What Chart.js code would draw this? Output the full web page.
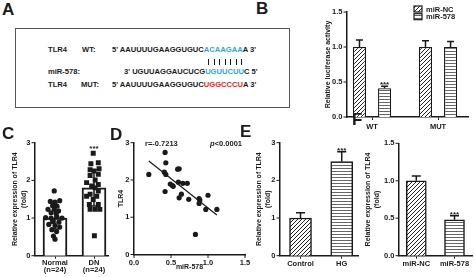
<!DOCTYPE html>
<html>
<head>
<meta charset="utf-8">
<script src="https://cdn.jsdelivr.net/npm/chart.js@4.4.1/dist/chart.umd.min.js"></script>
<style>
  body { margin: 0; width: 474px; height: 277px; background: #fff; position: relative; overflow: hidden;
         font-family: "Liberation Sans", Arial, sans-serif; font-weight: bold; color: #1a1a1a; }
  canvas { position: absolute; }
  .lbl { position: absolute; font-size: 17px; line-height: 17px; }
  .box { position: absolute; left: 15px; top: 28px; width: 273px; height: 78px; border: 1px solid #555; }
  .t { position: absolute; font-size: 7.6px; line-height: 10px; white-space: nowrap; }
  .tk { position: absolute; font-size: 7.5px; line-height: 10px; white-space: nowrap; }
  .b { color: #2aa6df; }
  .r { color: #e42525; }
  .p { position: relative; display: inline-block; }
  .p::before { content: ''; position: absolute; left: 50%; top: -8px; width: 1px; height: 6px; background: #1a1a1a; }
</style>
</head>
<body>
<canvas id="cB"></canvas>
<canvas id="cC"></canvas>
<canvas id="cD"></canvas>
<canvas id="cE"></canvas>
<canvas id="cF"></canvas>

<div class="box"></div>
<div class="t" style="left:48px;top:45px">TLR4</div>
<div class="t" style="left:82px;top:45px">WT:</div>
<div class="t" style="left:112px;top:45px">5' AAUUUUGAAGGUGUC<span class="b">ACAAGAA</span>A 3'</div>
<div class="t" style="left:48px;top:67px">miR-578:</div>
<div class="t" style="left:124px;top:67px">3' UGUUAGGAUCUCG<span class="b"><span class="p">U</span><span class="p">G</span><span class="p">U</span><span class="p">U</span><span class="p">C</span><span class="p">U</span><span class="p">U</span></span>C 5'</div>
<div class="t" style="left:48px;top:80px">TLR4</div>
<div class="t" style="left:81px;top:80px">MUT:</div>
<div class="t" style="left:112px;top:80px">5' AAUUUUGAAGGUGUC<span class="r">UGGCCCU</span>A 3'</div>

<div class="lbl" style="left:2px;top:1px">A</div>
<div class="lbl" style="left:256px;top:0px">B</div>
<div class="lbl" style="left:2px;top:125px">C</div>
<div class="lbl" style="left:110px;top:126px">D</div>
<div class="lbl" style="left:240px;top:123px">E</div>
<div class="lbl" style="left:352px;top:111px">F</div>

<script>
// B: luciferase
const lucCats = ['WT', 'MUT'];
const lucTicks = [0, 0.5, 1.0, 1.5];
const lucNC = [1.0, 1.0];
const lucNCErr = [0.10, 0.09];
const luc578 = [0.41, 1.0];
const luc578Err = [0.03, 0.08];
const luc578Stars = ['***', ''];

// C: tissue
const tissueCats = [['Normal', '(n=24)'], ['DN', '(n=24)']];
const tlrTicks = [0, 1, 2, 3];
const tissueMean = [1.0, 1.8];
const tissueSD = [0.29, 0.48];
const tissueStars = ['', '***'];
const normalVals = [1.72, 1.44, 1.42, 1.46, 1.33, 1.32, 1.23, 1.23, 1.19, 1.14, 1.12, 1.01,
                    1.00, 1.03, 1.00, 0.91, 0.89, 0.83, 0.80, 0.76, 0.69, 0.64, 0.52, 0.44];
const normalJit = [-0.02, -0.12, 0.0, 0.12, -0.06, 0.05, -0.18, -0.02, 0.09, -0.1, 0.03, -0.24,
                   -0.1, 0.05, 0.18, -0.06, 0.1, -0.16, 0.0, 0.12, -0.08, 0.04, -0.04, 0.0];
const dnVals = [2.72, 2.47, 2.44, 2.31, 2.28, 2.25, 2.16, 2.13, 2.01, 1.94, 1.89, 1.85,
                1.80, 1.72, 1.63, 1.58, 1.49, 1.36, 1.36, 1.23, 1.23, 1.23, 0.53, 1.58];
const dnJit = [-0.02, 0.11, -0.08, 0.13, -0.10, 0.0, 0.11, -0.10, 0.03, -0.19, 0.11, -0.06,
               0.03, 0.11, -0.10, 0.07, -0.02, 0.11, -0.12, 0.03, -0.10, 0.15, 0.01, -0.19];

// D: correlation
const miRTicks = [0, 0.5, 1.0, 1.5];
const corrMiR = [0.42, 0.43, 0.20, 0.41, 0.43, 0.59, 0.61, 0.42, 0.49, 0.52, 0.53, 0.60,
                 0.66, 0.72, 0.64, 0.61, 0.74, 0.88, 0.89, 0.88, 1.00, 0.97, 1.12, 0.83];
const corrTLR4 = [2.74, 2.46, 2.15, 2.21, 2.15, 2.29, 2.30, 1.69, 1.89, 1.85, 1.83, 1.94,
                  1.91, 1.91, 1.62, 1.52, 1.48, 1.50, 1.46, 1.37, 1.59, 1.21, 1.21, 0.54];
const fitMiR = [0.20, 1.12];
const fitTLR4 = [2.51, 1.06];
const corrR = 'r=-0.7213';
const corrP = '<0.0001';

// E: high glucose
const hgCats = ['Control', 'HG'];
const hgMean = [1.0, 2.5];
const hgErr = [0.14, 0.26];
const hgStars = ['', '***'];

// F: mimic
const mimicCats = ['miR-NC', 'miR-578'];
const foldTicks = [0, 0.5, 1.0, 1.5];
const mimicMean = [1.0, 0.48];
const mimicErr = [0.064, 0.053];
const mimicStars = ['', '***'];

const ink = '#1a1a1a';
const fontFam = '"Liberation Sans", Arial, sans-serif';
Chart.defaults.font.family = fontFam;
Chart.defaults.font.size = 7.5;
Chart.defaults.font.weight = 'bold';
Chart.defaults.color = ink;

function hatch(kind) {
  const c = document.createElement('canvas');
  const s = kind === 'diag' ? 4 : 3;
  c.width = s; c.height = s;
  const g = c.getContext('2d');
  g.fillStyle = '#fff';
  g.fillRect(0, 0, s, s);
  g.strokeStyle = kind === 'diag' ? '#222' : '#666';
  g.lineWidth = 1;
  g.beginPath();
  if (kind === 'diag') {
    g.moveTo(0, s); g.lineTo(s, 0);
    g.moveTo(-1, 1); g.lineTo(1, -1);
    g.moveTo(s - 1, s + 1); g.lineTo(s + 1, s - 1);
  } else {
    g.moveTo(0, 0.5); g.lineTo(s, 0.5);
  }
  g.stroke();
  return g.createPattern(c, 'repeat');
}
const diag = hatch('diag');
const horiz = hatch('horiz');

function place(id, x, y, w, h) {
  const c = document.getElementById(id);
  c.width = w; c.height = h;
  c.style.left = x + 'px'; c.style.top = y + 'px';
  c.style.width = w + 'px'; c.style.height = h + 'px';
  return c;
}

const fmt1 = v => Number(v).toFixed(1);
const fmt0 = v => String(v);

// tick marks and axis titles on the canvas
function axisText(cfg) {
  return {
    id: 'axisText',
    afterDraw(chart) {
      const ctx = chart.ctx, a = chart.chartArea, ys = chart.scales.y, xs = chart.scales.x;
      ctx.save();
      ctx.strokeStyle = ink;
      ctx.lineWidth = 1;
      cfg.yTicks.forEach(v => {
        const py = ys.getPixelForValue(v);
        ctx.beginPath(); ctx.moveTo(a.left - 3.5, py); ctx.lineTo(a.left, py); ctx.stroke();
      });
      if (cfg.xTicks) {
        cfg.xTicks.forEach(v => {
          const px = xs.getPixelForValue(v);
          ctx.beginPath(); ctx.moveTo(px, a.bottom); ctx.lineTo(px, a.bottom + 3.5); ctx.stroke();
        });
      }
      ctx.fillStyle = ink;
      ctx.font = 'bold 7px ' + fontFam;
      ctx.textAlign = 'center';
      ctx.textBaseline = 'middle';
      cfg.yTitle.forEach((line, i) => {
        ctx.save();
        ctx.translate(cfg.yTitleX + i * 9.1, (a.top + a.bottom) / 2);
        ctx.rotate(-Math.PI / 2);
        ctx.fillText(line, 0, 0);
        ctx.restore();
      });
      if (cfg.xTitle) ctx.fillText(cfg.xTitle, (a.left + a.right) / 2, cfg.xTitleY);
      ctx.restore();
    }
  };
}

// numeric tick labels as page text, positioned from the chart's scales
function addTick(txt, x, y, align) {
  const d = document.createElement('div');
  d.className = 'tk';
  d.textContent = txt;
  if (align === 'right') {
    d.style.right = (474 - x) + 'px';
    d.style.top = (y - 5) + 'px';
  } else {
    d.style.left = (x - 15) + 'px';
    d.style.width = '30px';
    d.style.textAlign = 'center';
    d.style.top = y + 'px';
  }
  document.body.appendChild(d);
}
function tickLabels(chart, ox, oy, yTicks, yFmt, xTicks, xFmt) {
  const a = chart.chartArea, ys = chart.scales.y, xs = chart.scales.x;
  yTicks.forEach(v => addTick(yFmt(v), ox + a.left - 4.5, oy + ys.getPixelForValue(v), 'right'));
  if (xTicks) xTicks.forEach(v => addTick(xFmt(v), ox + xs.getPixelForValue(v), oy + a.bottom + 3, 'center'));
}

function yAxis(max, width) {
  return {
    min: 0, max: max,
    ticks: { display: false },
    grid: { display: false },
    border: { color: ink, width: 1.5 },
    afterFit(s) { s.width = width; }
  };
}

function catAxis(cats, min, max, height, pad) {
  return {
    type: 'linear', min: min, max: max, offset: false,
    afterBuildTicks(s) { s.ticks = cats.map((c, i) => ({ value: i + 1 })); },
    ticks: { padding: pad, maxRotation: 0, autoSkip: false, font: { size: 7.5, lineHeight: 1 },
             callback: v => cats[Math.round(v) - 1] },
    grid: { drawOnChartArea: false, offset: false, tickLength: 3, color: ink, lineWidth: 1 },
    border: { color: ink, width: 1.5 },
    afterFit(s) { s.height = height; }
  };
}

const errorBars = {
  id: 'errorBars',
  afterDatasetsDraw(chart) {
    const ctx = chart.ctx;
    const ys = chart.scales.y;
    chart.data.datasets.forEach((ds, di) => {
      if (!ds.err) return;
      const meta = chart.getDatasetMeta(di);
      meta.data.forEach((bar, i) => {
        const v = ds.data[i].y, e = ds.err[i];
        const top = ys.getPixelForValue(v + e);
        const bot = ds.both ? ys.getPixelForValue(v - e) : bar.y;
        const half = ds.cap / 2;
        ctx.save();
        ctx.strokeStyle = ink;
        ctx.lineWidth = 1.5;
        ctx.beginPath();
        ctx.moveTo(bar.x, bot); ctx.lineTo(bar.x, top);
        ctx.moveTo(bar.x - half, top); ctx.lineTo(bar.x + half, top);
        if (ds.both) { ctx.moveTo(bar.x - half, bot); ctx.lineTo(bar.x + half, bot); }
        ctx.stroke();
        if (ds.stars && ds.stars[i]) {
          let yy = top;
          if (ds.starOver) yy = Math.min(yy, ys.getPixelForValue(ds.starOver[i]) - 3);
          ctx.fillStyle = ink;
          ctx.font = 'bold 8px ' + fontFam;
          ctx.textAlign = 'center';
          ctx.textBaseline = 'alphabetic';
          ctx.fillText(ds.stars[i], bar.x, yy + 1);
        }
        ctx.restore();
      });
    });
  }
};

const sideLegend = {
  id: 'sideLegend',
  afterDraw(chart, args, opts) {
    if (opts.x === undefined) return;
    const ctx = chart.ctx;
    chart.data.datasets.forEach((ds, i) => {
      const y = opts.y + i * opts.gap;
      ctx.save();
      ctx.fillStyle = ds.backgroundColor;
      ctx.fillRect(opts.x, y - 3, 8, 6);
      ctx.strokeStyle = ink; ctx.lineWidth = 1.2;
      ctx.strokeRect(opts.x, y - 3, 8, 6);
      ctx.fillStyle = ink;
      ctx.font = 'bold 7.5px ' + fontFam;
      ctx.textBaseline = 'middle';
      ctx.fillText(ds.label, opts.x + 12, y + 0.5);
      ctx.restore();
    });
  }
};

const corrText = {
  id: 'corrText',
  afterDraw(chart, args, opts) {
    if (!opts.r) return;
    const ctx = chart.ctx, a = chart.chartArea;
    ctx.save();
    ctx.fillStyle = ink;
    ctx.textBaseline = 'middle';
    ctx.font = 'bold 7.5px ' + fontFam;
    ctx.fillText(opts.r, a.left + 11, a.top + 1);
    const w = ctx.measureText(opts.p).width;
    ctx.fillText(opts.p, a.right - 3 - w, a.top + 1);
    ctx.font = 'italic bold 7.5px ' + fontFam;
    ctx.textAlign = 'right';
    ctx.fillText('p', a.right - 3 - w, a.top + 1);
    ctx.restore();
  }
};

function baseOpts(pad, scales, extra) {
  return {
    responsive: false, animation: false, events: [],
    layout: { padding: { left: 0, bottom: 0, top: pad.top, right: pad.right } },
    scales: scales,
    plugins: Object.assign({ legend: { display: false }, tooltip: { enabled: false } }, extra)
  };
}

const toXY = vals => vals.map((v, i) => ({ x: i + 1, y: v }));
const relTitle = ['Relative expression of TLR4', '(fold)'];

// B
const chartB = new Chart(place('cB', 318, 0, 156, 135), {
  type: 'bar',
  data: { datasets: [
    { label: 'miR-NC', data: toXY(lucNC), err: lucNCErr, cap: 7,
      backgroundColor: diag, borderColor: ink, borderWidth: 1.3,
      categoryPercentage: 0.76, barPercentage: 0.52 },
    { label: 'miR-578', data: toXY(luc578), err: luc578Err, stars: luc578Stars, cap: 7,
      backgroundColor: horiz, borderColor: ink, borderWidth: 1.3,
      categoryPercentage: 0.76, barPercentage: 0.52 }
  ] },
  options: baseOpts({ top: 12, right: 6 }, {
    x: catAxis(lucCats, 0.621, 2.454, 18, 3),
    y: yAxis(1.5, 29)
  }, { sideLegend: { x: 96, y: 9, gap: 7.7 } }),
  plugins: [errorBars, sideLegend,
            axisText({ yTicks: lucTicks, yTitle: ['Relative luciferase activity'], yTitleX: 10 })]
});
tickLabels(chartB, 318, 0, lucTicks, fmt1);

// C
const chartC = new Chart(place('cC', 0, 135, 112, 142), {
  type: 'bar',
  data: { datasets: [
    { type: 'scatter', data: normalVals.map((v, i) => ({ x: 1 + normalJit[i], y: v })),
      pointStyle: 'circle', pointRadius: 2.6, backgroundColor: ink, borderWidth: 0 },
    { type: 'scatter', data: dnVals.map((v, i) => ({ x: 2 + dnJit[i], y: v })),
      pointStyle: 'rect', pointRadius: 3.5, backgroundColor: ink, borderWidth: 0 },
    { data: toXY(tissueMean), err: tissueSD, both: true, cap: 9,
      stars: tissueStars, starOver: [Math.max(...normalVals), Math.max(...dnVals)],
      backgroundColor: '#fff', borderColor: ink, borderWidth: 2, barThickness: 24 }
  ] },
  options: baseOpts({ top: 7.7, right: 4 }, {
    x: catAxis(tissueCats, 0.487, 2.359, 21.3, 0),
    y: yAxis(3, 35)
  }),
  plugins: [errorBars, axisText({ yTicks: tlrTicks, yTitle: relTitle, yTitleX: 15 })]
});
tickLabels(chartC, 0, 135, tlrTicks, fmt0);

// D
const chartD = new Chart(place('cD', 112, 135, 140, 142), {
  type: 'scatter',
  data: { datasets: [
    { data: corrMiR.map((x, i) => ({ x: x, y: corrTLR4[i] })),
      pointRadius: 2.6, backgroundColor: ink, borderWidth: 0 },
    { data: fitMiR.map((x, i) => ({ x: x, y: fitTLR4[i] })), showLine: true,
      pointRadius: 0, borderColor: ink, borderWidth: 1.2 }
  ] },
  options: baseOpts({ top: 7.7, right: 7 }, {
    x: {
      type: 'linear', min: 0, max: 1.5,
      ticks: { display: false },
      grid: { display: false },
      border: { color: ink, width: 1.5 },
      afterFit(s) { s.height = 22.5; }
    },
    y: yAxis(3, 22)
  }, { corrText: { r: corrR, p: corrP } }),
  plugins: [corrText, axisText({ yTicks: tlrTicks, yTitle: ['TLR4'], yTitleX: 9,
                                 xTicks: miRTicks, xTitle: 'miR-578', xTitleY: 132.5 })]
});
tickLabels(chartD, 112, 135, tlrTicks, fmt0, miRTicks, fmt1);

// E
const chartE = new Chart(place('cE', 250, 135, 110, 142), {
  type: 'bar',
  data: { datasets: [
    { data: toXY(hgMean), err: hgErr, stars: hgStars, cap: 9,
      backgroundColor: [diag, horiz], borderColor: ink, borderWidth: 1.5, barThickness: 22 }
  ] },
  options: baseOpts({ top: 7.7, right: 2 }, {
    x: catAxis(hgCats, 0.502, 2.395, 21.3, 1.5),
    y: yAxis(3, 30)
  }),
  plugins: [errorBars, axisText({ yTicks: tlrTicks, yTitle: relTitle, yTitleX: 9 })]
});
tickLabels(chartE, 250, 135, tlrTicks, fmt0);

// F
const chartF = new Chart(place('cF', 359, 135, 115, 142), {
  type: 'bar',
  data: { datasets: [
    { data: toXY(mimicMean), err: mimicErr, stars: mimicStars, cap: 9,
      backgroundColor: [diag, horiz], borderColor: ink, borderWidth: 1.5, barThickness: 20 }
  ] },
  options: baseOpts({ top: 8.3, right: 2 }, {
    x: catAxis(mimicCats, 0.547, 2.458, 21.3, 1.5),
    y: yAxis(1.5, 40)
  }),
  plugins: [errorBars, axisText({ yTicks: foldTicks, yTitle: relTitle, yTitleX: 9 })]
});
tickLabels(chartF, 359, 135, foldTicks, fmt1);
</script>
</body>
</html>
